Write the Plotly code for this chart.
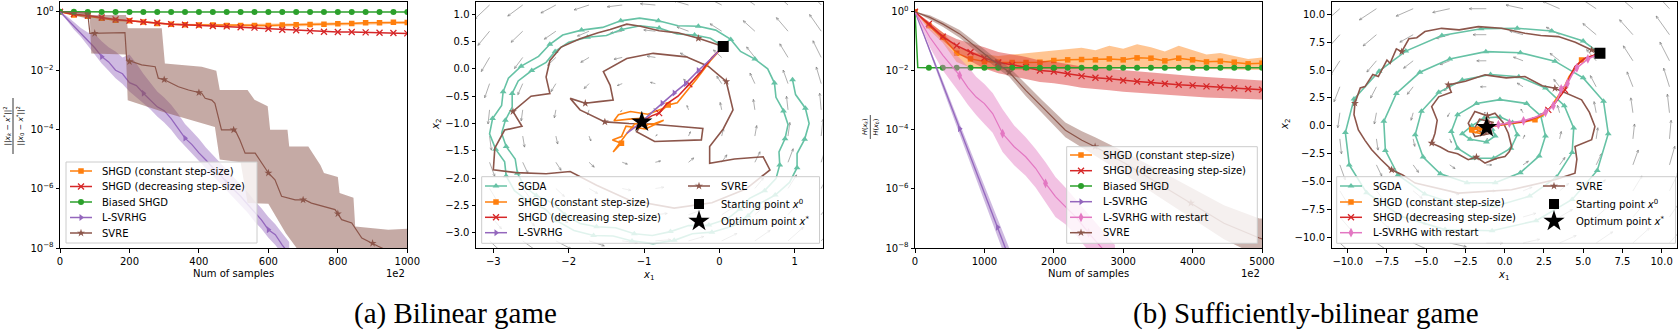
import math
import plotly.graph_objects as go

# ======================= DATA =======================
# ---- (a) left: relative distance vs number of samples (x in units of 1e2)
p1_x = list(range(0, 1001, 40))
p1_biased = [1.0, 0.99, 0.985, 0.98, 0.98, 0.98, 0.98, 0.98, 0.98, 0.98, 0.98, 0.98, 0.98,
             0.98, 0.98, 0.98, 0.98, 0.98, 0.98, 0.98, 0.98, 0.98, 0.98, 0.98, 0.98, 0.98]
p1_const = [1.0, 0.77, 0.71, 0.60, 0.52, 0.50, 0.45, 0.40, 0.38, 0.36, 0.355, 0.355, 0.345,
            0.345, 0.345, 0.345, 0.355, 0.36, 0.37, 0.38, 0.39, 0.40, 0.42, 0.42, 0.44, 0.43]
p1_const_hi = [1.0, 0.80, 0.74, 0.63, 0.55, 0.53, 0.48, 0.43, 0.41, 0.39, 0.385, 0.39, 0.38,
               0.385, 0.39, 0.39, 0.40, 0.41, 0.42, 0.43, 0.44, 0.45, 0.47, 0.47, 0.49, 0.48]
p1_const_lo = [1.0, 0.74, 0.68, 0.57, 0.49, 0.47, 0.42, 0.38, 0.355, 0.335, 0.325, 0.32, 0.31,
               0.305, 0.30, 0.30, 0.31, 0.315, 0.32, 0.33, 0.34, 0.35, 0.37, 0.37, 0.39, 0.38]
p1_dec = [1.0, 0.83, 0.75, 0.64, 0.55, 0.50, 0.45, 0.425, 0.38, 0.365, 0.345, 0.33, 0.32,
          0.30, 0.29, 0.265, 0.245, 0.235, 0.22, 0.21, 0.205, 0.205, 0.20, 0.195, 0.19, 0.185]
p1_lsv_x = list(range(0, 661, 20))
p1_lsv_log = [0, -0.25, -0.50, -0.72, -0.98, -1.22, -1.52, -1.70, -1.98, -2.10, -2.40, -2.50,
              -2.76, -2.98, -3.22, -3.35, -3.62, -3.95, -4.28, -4.50, -4.78, -5.02, -5.28, -5.50,
              -5.78, -6.02, -6.25, -6.52, -6.78, -7.05, -7.38, -7.55, -7.90, -8.20]
p1_lsv_hi_log = [0, -0.15, -0.35, -0.55, -0.70, -0.75, -1.0, -1.2, -1.35, -1.55, -1.45, -1.75,
                 -2.1, -2.4, -2.7, -2.9, -3.15, -3.45, -3.8, -4.05, -4.3, -4.6, -4.85, -5.1,
                 -5.35, -5.6, -5.85, -6.1, -6.4, -6.65, -6.95, -7.2, -7.5, -7.8]
p1_lsv_lo_log = [0, -0.3, -0.6, -0.85, -1.15, -1.45, -1.75, -2.0, -2.25, -2.45, -2.7, -2.9,
                 -3.1, -3.3, -3.55, -3.75, -4.0, -4.3, -4.55, -4.8, -5.05, -5.3, -5.55, -5.8,
                 -6.05, -6.3, -6.55, -6.8, -7.1, -7.35, -7.65, -7.9, -8.2, -8.5]
p1_lsv_marks = [6, 12, 18, 24, 30]
p1_svre_x = [0, 80, 86, 100, 168, 187, 192, 206, 235, 274, 283, 302, 341, 370, 408, 418, 437,
             446, 465, 504, 518, 533, 562, 600, 619, 638, 677, 705, 724, 792, 811, 840, 869,
             916, 945]
p1_svre_log = [0, -0.05, -0.73, -0.73, -0.73, -0.71, -1.63, -1.69, -1.80, -1.86, -2.25, -2.31,
               -2.54, -2.65, -2.76, -2.93, -2.99, -3.10, -4.0, -4.0, -4.34, -4.79, -4.79, -5.46,
               -5.69, -6.25, -6.37, -6.37, -6.48, -6.70, -7.04, -7.15, -7.66, -7.94, -8.10]
p1_svre_mx = [100, 200, 300, 400, 500, 600, 700, 800, 900]
p1_svre_mlog = [-0.73, -1.69, -2.30, -2.74, -4.0, -5.46, -6.37, -6.84, -7.84]
p1_svre_hi_x = [0, 86, 90, 190, 195, 293, 302, 408, 450, 460, 540, 560, 598, 605, 655, 660,
                715, 750, 760, 800, 805, 845, 850, 945, 1000]
p1_svre_hi_log = [0, -0.02, -0.11, -0.11, -0.56, -0.56, -1.75, -1.86, -2.0, -2.65, -2.65,
                  -2.98, -3.2, -4.0, -4.0, -4.56, -4.56, -5.2, -5.46, -5.6, -6.14, -6.3, -7.27,
                  -7.38, -7.35]
p1_svre_lo_x = [0, 86, 90, 190, 195, 300, 446, 460, 520, 540, 600, 650, 700, 1000]
p1_svre_lo_log = [0, -0.25, -1.41, -1.45, -3.0, -3.4, -3.9, -5.0, -5.1, -6.48, -6.5, -7.5,
                  -8.3, -9.0]

# ---- (a) right: trajectories in the bilinear game
p2_start = (0.05, 0.41)
p2_opt = (-1.03, -0.97)
p2_sgda_x = [0.05, -0.12, -0.33, -0.56, -0.80, -1.05, -1.30, -1.50, -1.75, -2.00,
             -2.18, -2.30, -2.49, -2.67, -2.75, -2.75, -2.84, -2.89, -2.83, -2.71,
             -2.68, -2.59, -2.43, -2.21, -2.05, -1.85, -1.63, -1.38, -1.13, -0.89,
             -0.65, -0.41, -0.14, 0.10, 0.27, 0.40, 0.60, 0.75, 0.80, 0.79,
             0.87, 0.91, 0.85, 0.75, 0.73, 0.64, 0.47, 0.28, 0.15, -0.05,
             -0.28, -0.55, -0.81, -1.06, -1.31, -1.55, -1.83, -2.08, -2.25, -2.40,
             -2.63, -2.80, -2.87, -2.89, -3.01, -3.05, -2.97, -2.85, -2.83, -2.72,
             -2.53, -2.31, -2.16, -1.93, -1.67, -1.41, -1.16, -0.88, -0.60, -0.36,
             -0.10, 0.17, 0.38, 0.53, 0.74, 0.93, 1.03, 1.03, 1.13, 1.19,
             1.14, 1.01, 0.97]
p2_sgda_y = [0.41, 0.56, 0.62, 0.64, 0.75, 0.79, 0.72, 0.61, 0.58, 0.49,
             0.32, 0.12, -0.03, -0.22, -0.45, -0.70, -0.94, -1.18, -1.42, -1.65,
             -1.91, -2.15, -2.32, -2.46, -2.67, -2.83, -2.89, -2.91, -3.02, -3.05,
             -2.98, -2.87, -2.86, -2.75, -2.57, -2.37, -2.23, -2.01, -1.76, -1.52,
             -1.28, -1.02, -0.77, -0.52, -0.26, 0.0, 0.18, 0.32, 0.54, 0.71,
             0.78, 0.79, 0.88, 0.93, 0.88, 0.76, 0.71, 0.62, 0.45, 0.23,
             0.05, -0.17, -0.42, -0.67, -0.91, -1.19, -1.47, -1.70, -1.96, -2.23,
             -2.43, -2.57, -2.78, -2.96, -3.05, -3.06, -3.15, -3.20, -3.14, -3.02,
             -2.99, -2.88, -2.69, -2.47, -2.31, -2.08, -1.81, -1.55, -1.29, -1.0,
             -0.72, -0.47, -0.20]
p2_sgda_marks = list(range(0, 93, 2))
p2_const_x = [0.05, -0.12, -0.3, -0.48, -0.56, -0.68, -0.8, -0.74, -0.95, -1.18, -1.34, -1.4,
              -1.2, -0.96, -1.1, -0.86, -0.74, -0.98, -1.24, -1.3, -1.42, -1.3, -1.41, -1.25,
              -1.12, -0.95, -1.05]
p2_const_y = [0.41, 0.15, -0.18, -0.48, -0.62, -0.66, -0.8, -0.72, -0.83, -0.78, -0.84, -0.95,
              -0.92, -0.90, -1.05, -1.0, -0.94, -1.1, -1.05, -1.24, -1.30, -1.36, -1.52, -1.22,
              -1.0, -1.04, -0.95]
p2_const_marks = [5, 21]
p2_dec_x = [0.05, -0.1, -0.25, -0.4, -0.55, -0.7, -0.8, -0.9, -1.0, -1.03]
p2_dec_y = [0.41, 0.21, -0.06, -0.28, -0.5, -0.64, -0.81, -0.86, -0.95, -0.97]
p2_dec_marks = [3, 6]
p2_lsv_x = [0.05, -0.1, -0.28, -0.45, -0.6, -0.76, -0.9, -1.03, -1.15, -1.23]
p2_lsv_y = [0.41, 0.2, -0.03, -0.27, -0.44, -0.63, -0.8, -0.97, -1.09, -1.18]
p2_lsv_marks = [2, 3, 4, 5]
p2_svre_x = [0.05, -0.28, -0.55, -0.8, -1.05, -1.23, -1.45, -1.61, -1.85, -2.1, -2.25, -2.3,
             -2.25, -2.5, -2.74, -2.62, -2.85, -2.98, -3.0, -2.7, -2.3, -1.98, -1.63, -1.2,
             -0.6, -0.1, 0.35, 0.67, 0.58, 0.2, -0.13, -0.13, 0.05, 0.18, 0.09, -0.15, -0.44,
             -0.88, -1.23, -1.54, -1.45, -1.41, -1.6, -1.78, -1.98, -1.85, -1.52, -1.2, -0.92,
             -0.5, -0.22, -0.24, -0.55, -0.86, -1.1, -1.0]
p2_svre_y = [0.41, 0.56, 0.66, 0.70, 0.78, 0.82, 0.72, 0.66, 0.55, 0.40, 0.15, -0.15, -0.45,
             -0.50, -0.78, -1.05, -1.12, -1.45, -1.85, -1.90, -1.92, -1.88, -2.13, -2.40, -2.55,
             -2.45, -2.20, -1.85, -1.61, -1.65, -1.73, -1.42, -1.10, -0.75, -0.23, 0.05, 0.22,
             0.285, 0.19, -0.05, -0.30, -0.57, -0.60, -0.63, -0.54, -0.75, -0.97, -1.0, -1.01,
             -1.05, -1.09, -1.30, -1.31, -1.33, -1.15, -0.95]
p2_svre_marks = [1, 14, 34, 43, 46]
p2_grid_x = [-3.05, -2.61, -2.17, -1.73, -1.29, -0.85, -0.41, 0.03, 0.47, 0.91, 1.35]
p2_grid_y = [-3.15, -2.67, -2.19, -1.71, -1.23, -0.75, -0.27, 0.21, 0.69, 1.17]

# ---- (b) left: H(x_k)/H(x_0) vs number of samples (x in units of 1e2)
p3_x = list(range(0, 5001, 200))
p3_const_log = [0, -0.472, -0.865, -1.404, -1.596, -1.685, -1.708, -1.719, -1.719, -1.708,
                -1.652, -1.629, -1.618, -1.629, -1.596, -1.629, -1.562, -1.573, -1.663, -1.573,
                -1.629, -1.697, -1.674, -1.708, -1.764, -1.742]
p3_const_hi_log = [0, -0.35, -0.7, -1.2, -1.35, -1.45, -1.5, -1.45, -1.4, -1.35, -1.3, -1.25,
                   -1.22, -1.3, -1.15, -1.25, -1.1, -1.2, -1.35, -1.15, -1.3, -1.45, -1.4, -1.5,
                   -1.6, -1.55]
p3_const_lo_log = [0, -0.6, -1.05, -1.7, -1.9, -1.95, -1.98, -1.97, -1.96, -1.95, -1.94, -1.93,
                   -1.93, -1.93, -1.92, -1.93, -1.92, -1.92, -1.93, -1.92, -1.93, -1.94, -1.94,
                   -1.95, -1.96, -1.96]
p3_dec_log = [0, -0.416, -0.843, -1.146, -1.371, -1.562, -1.719, -1.798, -1.876, -1.989, -2.022,
              -2.101, -2.180, -2.236, -2.270, -2.326, -2.360, -2.393, -2.438, -2.472, -2.494,
              -2.528, -2.562, -2.596, -2.618, -2.640]
p3_dec_hi_log = [0, -0.33, -0.7, -0.92, -1.07, -1.2, -1.36, -1.45, -1.53, -1.65, -1.69, -1.77,
                 -1.85, -1.9, -1.94, -2.0, -2.04, -2.07, -2.12, -2.15, -2.18, -2.21, -2.24,
                 -2.27, -2.3, -2.33]
p3_dec_lo_log = [0, -0.5, -0.98, -1.38, -1.68, -1.92, -2.08, -2.18, -2.27, -2.38, -2.42, -2.49,
                 -2.57, -2.62, -2.66, -2.71, -2.74, -2.78, -2.82, -2.85, -2.87, -2.9, -2.92,
                 -2.94, -2.96, -2.97]
p3_bias_x = [0, 40] + list(range(200, 5001, 200))
p3_bias = [1.0, 0.013, 0.0128, 0.0128, 0.0128, 0.0128, 0.0128, 0.0128, 0.0128, 0.0128, 0.0128,
           0.0128, 0.0128, 0.0128, 0.0128, 0.0128, 0.0128, 0.0128, 0.0128, 0.0128, 0.0128,
           0.0128, 0.0128, 0.0128, 0.0128, 0.0128, 0.0128]
p3_lsv_x = [0, 200, 400, 643, 800, 1000, 1190, 1400]
p3_lsv_log = [0, -1.23, -2.46, -3.96, -4.92, -6.14, -7.3, -8.6]
p3_lsv_hi_log = [0, -1.15, -2.33, -3.78, -4.7, -5.88, -7.0, -8.25]
p3_lsv_lo_log = [0, -1.31, -2.6, -4.15, -5.15, -6.4, -7.6, -8.95]
p3_lsv_marks = [3, 6]
p3_rst_x = [0, 214, 405, 643, 762, 881, 1000, 1119, 1262, 1429, 1595, 1738, 1881, 2024, 2167,
            2333, 2500, 2690, 2881]
p3_rst_log = [0, -0.865, -1.483, -2.157, -2.57, -2.888, -3.11, -3.449, -4.124, -4.57, -4.91,
              -5.30, -5.81, -6.26, -6.6, -6.99, -7.49, -8.0, -8.5]
p3_rst_hi_log = [0, -0.55, -1.0, -1.55, -1.85, -2.2, -2.45, -2.75, -3.3, -3.85, -4.25, -4.65,
                 -5.1, -5.6, -5.95, -6.4, -6.85, -7.35, -7.9]
p3_rst_lo_log = [0, -1.2, -2.0, -2.75, -3.15, -3.5, -3.8, -4.1, -4.75, -5.2, -5.55, -5.95,
                 -6.45, -6.95, -7.2, -7.6, -8.1, -8.6, -9.0]
p3_rst_marks = [3, 8, 12, 16]
p3_svre_x = [0, 214, 405, 643, 881, 1119, 1357, 1595, 1833, 1976, 2167, 2405, 2595, 3024, 3500,
             3976, 4452, 4962, 5000]
p3_svre_log = [0, -0.19, -0.42, -0.75, -1.2, -1.65, -2.04, -2.66, -3.22, -3.56, -4.01, -4.35,
               -4.57, -5.13, -5.81, -6.48, -7.16, -7.66, -7.69]
p3_svre_hi_log = [0, -0.12, -0.33, -0.62, -1.05, -1.5, -1.88, -2.45, -3.0, -3.32, -3.75, -4.05,
                  -4.25, -4.75, -5.35, -5.95, -6.55, -7.0, -7.0]
p3_svre_lo_log = [0, -0.27, -0.52, -0.88, -1.35, -1.8, -2.2, -2.85, -3.42, -3.78, -4.25, -4.62,
                  -4.88, -5.5, -6.25, -6.98, -7.7, -8.3, -8.35]
p3_svre_marks = [6, 12, 15]

# ---- (b) right: trajectories in the sufficiently-bilinear game
p4_start = (6.07, 6.5)
p4_opt = (-1.15, -0.15)
p4_sgda_x = [6.07, 5.0, 3.0, 0.8, -1.5, -4.0, -6.3, -8.0, -9.6, -10.15, -9.9, -8.8, -6.6, -3.8,
             -0.8, 2.0, 4.3, 5.9, 6.6, 6.3, 5.0, 3.2, 1.0, -1.2, -3.5, -5.4, -6.9, -7.7, -7.6,
             -6.8, -5.1, -3.0, -0.6, 1.6, 3.3, 4.3, 4.4, 3.8, 2.6, 0.9, -0.9, -2.7, -4.2, -5.3,
             -5.7, -5.2, -4.1, -2.4, -0.6, 1.0, 2.2, 2.6, 2.3, 1.4, -0.3, -1.8, -3.0, -3.4, -3.0,
             -2.0, -0.7, 0.4, 0.8, 0.5, -0.3, -1.3, -2.1, -2.7, -2.2, -1.16, -0.6, -0.8, -1.15]
p4_sgda_y = [6.5, 7.6, 8.5, 8.75, 8.7, 8.1, 6.7, 4.9, 2.4, -0.6, -3.5, -6.0, -8.1, -9.3, -9.4,
             -8.5, -6.6, -4.0, -0.7, 2.2, 4.3, 5.8, 6.55, 6.65, 6.0, 4.8, 2.9, 0.4, -2.2, -4.4,
             -6.1, -7.1, -7.2, -6.3, -4.6, -2.4, -0.2, 1.8, 3.4, 4.4, 4.6, 4.1, 3.0, 1.3, -0.8,
             -2.8, -4.3, -5.1, -5.1, -4.2, -2.7, -0.9, 0.9, 2.0, 2.35, 2.0, 1.0, -0.5, -2.0,
             -2.9, -2.9, -2.0, -0.8, 0.3, 0.8, 0.7, 0.0, -0.7, -1.2, -1.45, -0.9, -0.3, -0.15]
p4_const_x = [6.07, 5.3, 4.9, 4.5, 4.1, 3.8, 3.4, 3.0, 2.5, 1.93, 1.2, 0.3, -0.6, -1.3, -2.1,
              -1.9, -1.4, -1.7, -2.2, -1.5, -1.15]
p4_const_y = [6.5, 6.1, 5.91, 5.2, 4.4, 3.5, 2.6, 1.8, 1.0, 0.54, 0.35, 0.2, 0.0, -0.2, -0.36,
              -0.6, -0.3, -0.1, -0.5, -0.7, -0.15]
p4_const_marks = [2, 9, 14]
p4_dec_x = [6.07, 5.11, 4.48, 4.16, 3.84, 3.5, 3.2, 2.78, 2.14, 1.29, 0.23, -0.62, -1.15]
p4_dec_y = [6.5, 6.06, 5.31, 4.42, 3.22, 2.6, 2.03, 1.43, 0.84, 0.39, 0.24, 0.0, -0.15]
p4_dec_marks = [4, 7]
p4_rst_x = [6.07, 5.3, 4.6, 4.3, 4.0, 3.6, 3.4, 3.1, 2.6, 2.0, 1.2, 0.3, -0.4, -0.9, -1.15]
p4_rst_y = [6.5, 6.0, 5.2, 4.6, 3.8, 3.3, 2.5, 1.8, 1.2, 0.8, 0.45, 0.25, 0.1, -0.1, -0.15]
p4_rst_marks = [1, 2, 4, 5, 7, 8, 10, 11, 12, 13]
p4_svre_x = [6.07, 5.54, 4.5, 3.42, 2.3, 1.29, -0.2, -1.68, -2.9, -4.02, -5.08, -5.6, -6.1,
             -6.56, -6.9, -7.3, -7.5, -8.05, -8.4, -8.9, -9.2, -9.54, -9.6, -9.32, -8.9, -8.47,
             -7.9, -7.2, -6.5, -5.7, -2.95, 0.44, 3.2, 4.48, 4.6, 4.48, 5.54, 5.75, 5.4, 4.9,
             3.2, 2.4, 1.29, 0.1, -1.25, -2.5, -3.59, -3.4, -4.2, -4.65, -4.3, -4.44, -4.65,
             -4.1, -3.59, -3.0, -2.32, -1.8, -1.25, -0.5, 0.02, 0.3, 0.44, 0.23, -0.1, -0.62,
             -1.1, -1.9, -2.32, -2.1, -1.9, -0.83, -1.04, -1.47, -0.7, -1.6, -1.9, -1.3, -0.9,
             -1.15]
p4_svre_y = [6.5, 6.8, 7.5, 8.0, 8.1, 8.3, 8.75, 8.89, 8.6, 8.74, 8.45, 7.9, 7.8, 6.65, 6.9,
             5.6, 5.9, 4.42, 4.6, 3.52, 3.4, 2.03, 1.0, -0.36, -1.3, -2.15, -3.0, -3.94, -4.4,
             -5.13, -6.03, -5.73, -4.83, -4.24, -3.0, -1.85, -1.25, -0.06, 1.2, 2.33, 3.37, 3.6,
             4.42, 4.3, 4.57, 4.0, 3.67, 3.0, 2.6, 1.73, 0.5, -0.66, -1.55, -1.9, -2.3, -2.5,
             -3.04, -2.8, -3.34, -2.9, -2.75, -2.3, -1.85, -0.66, 0.3, 1.13, 0.9, 1.28, 0.24,
             -0.4, -0.96, -0.66, 0.54, -0.06, 0.3, 0.6, -0.2, -0.8, -0.2, -0.15]
p4_svre_marks = [1, 13, 21, 27, 40, 46, 52, 57, 66]
p4_grid_x = [-10.5, -8.17, -5.83, -3.5, -1.17, 1.17, 3.5, 5.83, 8.17, 10.5]
p4_grid_y = [-10.5, -8.17, -5.83, -3.5, -1.17, 1.17, 3.5, 5.83, 8.17, 10.5]

# tick labels
log_tickvals = [1, 1e-2, 1e-4, 1e-6, 1e-8]
log_ticktext = ["10<sup>0</sup>", "10<sup>\u22122</sup>", "10<sup>\u22124</sup>",
                "10<sup>\u22126</sup>", "10<sup>\u22128</sup>"]

# ======================= STYLE / LAYOUT =======================
FW, FH = 1680, 334
FONT = "DejaVu Sans"
SERIF = "Liberation Serif, Times New Roman, serif"
C_OR, C_RD, C_GR = "#ff7f0e", "#d62728", "#2ca02c"
C_PU, C_PK, C_BR, C_TE = "#9467bd", "#e377c2", "#8c564b", "#66c2a5"


def rgba(h, a):
    h = h.lstrip("#")
    return "rgba(%d,%d,%d,%.3f)" % (int(h[0:2], 16), int(h[2:4], 16), int(h[4:6], 16), a)


def pw(v):
    return [10 ** t for t in v]


# panel pixel boxes (left, right, top, bottom)
BOX = {1: (60, 407.3, 2, 248), 2: (476, 822.7, 2, 248),
       3: (915, 1262, 2, 248), 4: (1331.7, 1676.7, 2, 248)}
RANGES = {2: ((-3.23, 1.37), (-3.28, 1.225)), 4: ((-11.02, 10.96), (-10.95, 11.1))}

fig = go.Figure()


def ax(i):
    return dict(xaxis="x" if i == 1 else "x%d" % i, yaxis="y" if i == 1 else "y%d" % i)


def line(i, x, y, color, width=1.5, mode="lines", marker=None, opacity=1.0):
    fig.add_trace(go.Scatter(x=x, y=y, mode=mode, line=dict(color=color, width=width),
                             marker=marker, opacity=opacity, hoverinfo="skip",
                             showlegend=False, **ax(i)))


def marks(i, x, y, idx, marker):
    fig.add_trace(go.Scatter(x=[x[k] for k in idx], y=[y[k] for k in idx], mode="markers",
                             marker=marker, hoverinfo="skip", showlegend=False, **ax(i)))


def band(i, xs, hi, lo, color, alpha, xs_lo=None):
    xl = xs if xs_lo is None else xs_lo
    fig.add_trace(go.Scatter(x=list(xs) + list(xl)[::-1], y=list(hi) + list(lo)[::-1],
                             mode="lines", fill="toself", fillcolor=rgba(color, alpha),
                             line=dict(width=0), hoverinfo="skip", showlegend=False, **ax(i)))


def M(sym, color, size=6, lw=0):
    if sym == "x-thin":
        return dict(symbol=sym, size=size, color=color, line=dict(width=1.3, color=color))
    return dict(symbol=sym, size=size, color=color, line=dict(width=lw, color=color))


def quiver(i, gx, gy, c, k):
    (x0, x1), (y0, y1) = RANGES[i]
    l, r, t, b = BOX[i]
    sx = (r - l) / (x1 - x0)
    sy = (b - t) / (y1 - y0)
    xs, ys = [], []
    for x in gx:
        for y in gy:
            du = -k * (y - c[1])
            dv = k * (x - c[0])
            L = math.hypot(du, dv)
            if L < 0.5:
                continue
            tx, ty = x + du / sx, y + dv / sy
            ux, uy = du / L, dv / L
            h = min(2.8, 0.4 * L)
            xs += [x, tx, None]
            ys += [y, ty, None]
            for s in (1, -1):
                a = math.radians(24) * s
                hx = ux * math.cos(a) - uy * math.sin(a)
                hy = ux * math.sin(a) + uy * math.cos(a)
                xs += [tx - h * hx / sx, tx, None]
                ys += [ty - h * hy / sy, ty, None]
    line(i, xs, ys, "rgba(120,120,120,0.75)", width=0.8)


# ---------------- panel 1 ----------------
band(1, p1_x, p1_const_hi, p1_const_lo, C_OR, 0.35)
line(1, p1_x, p1_const, C_OR, mode="lines+markers", marker=M("square", C_OR, 5.5))
line(1, p1_x, p1_dec, C_RD, mode="lines+markers", marker=M("x-thin", C_RD, 6))
line(1, p1_x, p1_biased, C_GR, mode="lines+markers", marker=M("circle", C_GR, 6))
band(1, p1_lsv_x, pw(p1_lsv_hi_log), pw(p1_lsv_lo_log), C_PU, 0.45)
line(1, p1_lsv_x, pw(p1_lsv_log), C_PU, width=1.3)
marks(1, p1_lsv_x, pw(p1_lsv_log), p1_lsv_marks, M("triangle-right", C_PU, 6))
band(1, p1_svre_hi_x, pw(p1_svre_hi_log), pw(p1_svre_lo_log), C_BR, 0.5, xs_lo=p1_svre_lo_x)
line(1, p1_svre_x, pw(p1_svre_log), C_BR, width=1.2)
fig.add_trace(go.Scatter(x=p1_svre_mx, y=pw(p1_svre_mlog), mode="markers",
                         marker=M("star", C_BR, 6), hoverinfo="skip", showlegend=False, **ax(1)))

# ---------------- panel 2 ----------------
quiver(2, p2_grid_x, p2_grid_y, p2_opt, 7.0)
line(2, p2_sgda_x, p2_sgda_y, C_TE, width=1.6)
marks(2, p2_sgda_x, p2_sgda_y, p2_sgda_marks, M("triangle-up", C_TE, 6))
line(2, p2_svre_x, p2_svre_y, C_BR, width=1.6)
marks(2, p2_svre_x, p2_svre_y, p2_svre_marks, M("star", C_BR, 6))
line(2, p2_const_x, p2_const_y, C_OR, width=1.6)
marks(2, p2_const_x, p2_const_y, p2_const_marks, M("square", C_OR, 5.5))
line(2, p2_dec_x, p2_dec_y, C_RD, width=1.6)
marks(2, p2_dec_x, p2_dec_y, p2_dec_marks, M("x-thin", C_RD, 6))
line(2, p2_lsv_x, p2_lsv_y, C_PU, width=1.6)
marks(2, p2_lsv_x, p2_lsv_y, p2_lsv_marks, M("triangle-right", C_PU, 6))
line(2, [p2_start[0]], [p2_start[1]], "black", mode="markers", marker=M("square", "black", 11))
line(2, [p2_opt[0]], [p2_opt[1]], "black", mode="markers", marker=M("star", "black", 16))

# ---------------- panel 3 ----------------
band(3, p3_x, pw(p3_const_hi_log), pw(p3_const_lo_log), C_OR, 0.45)
line(3, p3_x, pw(p3_const_log), C_OR, mode="lines+markers", marker=M("square", C_OR, 5.5))
band(3, p3_x, pw(p3_dec_hi_log), pw(p3_dec_lo_log), C_RD, 0.45)
line(3, p3_x, pw(p3_dec_log), C_RD, mode="lines+markers", marker=M("x-thin", C_RD, 6))
line(3, p3_bias_x, p3_bias, C_GR)
marks(3, p3_bias_x, p3_bias, list(range(2, len(p3_bias_x))), M("circle", C_GR, 6))
band(3, p3_lsv_x, pw(p3_lsv_hi_log), pw(p3_lsv_lo_log), C_PU, 0.45)
line(3, p3_lsv_x, pw(p3_lsv_log), C_PU, width=1.3)
marks(3, p3_lsv_x, pw(p3_lsv_log), p3_lsv_marks, M("triangle-right", C_PU, 6))
band(3, p3_rst_x, pw(p3_rst_hi_log), pw(p3_rst_lo_log), C_PK, 0.45)
line(3, p3_rst_x, pw(p3_rst_log), C_PK, width=1.2)
marks(3, p3_rst_x, pw(p3_rst_log), p3_rst_marks, M("diamond-tall", C_PK, 7))
band(3, p3_svre_x, pw(p3_svre_hi_log), pw(p3_svre_lo_log), C_BR, 0.45)
line(3, p3_svre_x, pw(p3_svre_log), C_BR, width=1.2)
marks(3, p3_svre_x, pw(p3_svre_log), p3_svre_marks, M("star", C_BR, 6))

# ---------------- panel 4 ----------------
quiver(4, p4_grid_x, p4_grid_y, p4_opt, 1.6)
line(4, p4_sgda_x, p4_sgda_y, C_TE, width=1.6, mode="lines+markers",
     marker=M("triangle-up", C_TE, 6))
line(4, p4_svre_x, p4_svre_y, C_BR, width=1.6)
marks(4, p4_svre_x, p4_svre_y, p4_svre_marks, M("star", C_BR, 6))
line(4, p4_const_x, p4_const_y, C_OR, width=1.6)
marks(4, p4_const_x, p4_const_y, p4_const_marks, M("square", C_OR, 5.5))
line(4, p4_dec_x, p4_dec_y, C_RD, width=1.6)
marks(4, p4_dec_x, p4_dec_y, p4_dec_marks, M("x-thin", C_RD, 6))
line(4, p4_rst_x, p4_rst_y, C_PK, width=1.6)
marks(4, p4_rst_x, p4_rst_y, p4_rst_marks, M("diamond-tall", C_PK, 7))
line(4, [p4_start[0]], [p4_start[1]], "black", mode="markers", marker=M("square", "black", 11))
line(4, [p4_opt[0]], [p4_opt[1]], "black", mode="markers", marker=M("star", "black", 16))

# ---------------- overlay (pixel coordinates) for legends & labels ----------------
OV = dict(xaxis="x5", yaxis="y5")
TXT = dict(family=FONT, size=10, color="black")


def ov_trace(x, y, **kw):
    fig.add_trace(go.Scatter(x=x, y=y, hoverinfo="skip", showlegend=False, **OV, **kw))


def text(x, y, s, size=10, xa="left", ya="middle", rot=0, fam=FONT):
    fig.add_annotation(x=x, y=y, xref="x5", yref="y5", text=s, showarrow=False,
                       xanchor=xa, yanchor=ya, textangle=rot,
                       font=dict(family=fam, size=size, color="black"))


def leg_box(x0, x1, y0, y1):
    ov_trace([x0, x1, x1, x0, x0], [y0, y0, y1, y1, y0], mode="lines", fill="toself",
             fillcolor="rgba(255,255,255,0.8)", line=dict(color="#cccccc", width=1))


def leg_item(xl, xt, y, label, color=None, marker=None, draw_line=True):
    if draw_line:
        ov_trace([xl, xl + 22], [y, y], mode="lines", line=dict(color=color, width=1.5))
    if marker is not None:
        ov_trace([xl + 11], [y], mode="markers", marker=marker)
    text(xt, y, label)


L_CONST = "SHGD (constant step-size)"
L_DEC = "SHGD (decreasing step-size)"

# legend panel 1
leg_box(66, 257, 162, 243)
for yy, lab, c, m in [(171, L_CONST, C_OR, M("square", C_OR, 5.5)),
                      (186.5, L_DEC, C_RD, M("x-thin", C_RD, 6)),
                      (202, "Biased SHGD", C_GR, M("circle", C_GR, 6)),
                      (217.5, "L-SVRHG", C_PU, M("triangle-right", C_PU, 6)),
                      (233, "SVRE", C_BR, M("star", C_BR, 6))]:
    leg_item(70, 100, yy, lab, c, m)

# legend panel 3
leg_box(1066.7, 1257.3, 146.7, 243.3)
for yy, lab, c, m in [(155, L_CONST, C_OR, M("square", C_OR, 5.5)),
                      (170.7, L_DEC, C_RD, M("x-thin", C_RD, 6)),
                      (186, "Biased SHGD", C_GR, M("circle", C_GR, 6)),
                      (201.7, "L-SVRHG", C_PU, M("triangle-right", C_PU, 6)),
                      (217.3, "L-SVRHG with restart", C_PK, M("diamond-tall", C_PK, 7)),
                      (232.7, "SVRE", C_BR, M("star", C_BR, 6))]:
    leg_item(1070, 1100.7, yy, lab, c, m)

# legends panels 2 and 4
for (bx0, bx1, c1l, c1t, c2l, c2t, last_lab, last_c, last_m) in [
        (481.7, 819.5, 485, 515.7, 688, 719.3, "L-SVRHG", C_PU, M("triangle-right", C_PU, 6)),
        (1336.7, 1675.5, 1340, 1370.7, 1543, 1574.3, "L-SVRHG with restart", C_PK,
         M("diamond-tall", C_PK, 7))]:
    leg_box(bx0, bx1, 176.7, 243.3)
    for yy, lab, c, m in [(186, "SGDA", C_TE, M("triangle-up", C_TE, 6)),
                          (202, L_CONST, C_OR, M("square", C_OR, 5.5)),
                          (217.3, L_DEC, C_RD, M("x-thin", C_RD, 6)),
                          (232.7, last_lab, last_c, last_m)]:
        leg_item(c1l, c1t, yy, lab, c, m)
    leg_item(c2l, c2t, 186, "SVRE", C_BR, M("star", C_BR, 6))
    leg_item(c2l, c2t, 204, "Starting point <i>x</i><sup>0</sup>", marker=M("square", "black", 10),
             draw_line=False)
    leg_item(c2l, c2t, 221.3, "Optimum point <i>x</i><sup>*</sup>", marker=M("star", "black", 16),
             draw_line=False)

# axis labels
text(233.7, 273, "Num of samples", xa="center")
text(407.3, 273, "1e2", xa="right")
text(1088.5, 273, "Num of samples", xa="center")
text(1262, 273, "1e2", xa="right")
text(648.3, 275, "<i>x</i><sub>1</sub>", xa="center")
text(1503.3, 275, "<i>x</i><sub>1</sub>", xa="center")
text(436, 125, "<i>x</i><sub>2</sub>", xa="center", rot=-90)
text(1285, 125, "<i>x</i><sub>2</sub>", xa="center", rot=-90)
# fraction y-labels
text(6.5, 126, "||<i>x<sub>k</sub></i> \u2212 <i>x</i><sup>*</sup>||<sup>2</sup>", size=7.5,
     xa="center", rot=-90)
text(19.5, 126, "||<i>x</i><sub>0</sub> \u2212 <i>x</i><sup>*</sup>||<sup>2</sup>", size=7.5,
     xa="center", rot=-90)
ov_trace([13, 13], [98, 154], mode="lines", line=dict(color="black", width=0.8))
text(865, 127, "<i>H</i>(<i>x<sub>k</sub></i>)", size=6.5, xa="center", rot=-90)
text(875.5, 127, "<i>H</i>(<i>x</i><sub>0</sub>)", size=6.5, xa="center", rot=-90)
ov_trace([870.3, 870.3], [115, 139], mode="lines", line=dict(color="black", width=0.7))

# captions
text(455, 313.5, "(a) Bilinear game", size=29, xa="center", fam=SERIF)
text(1306, 313.5, "(b) Sufficiently-bilinear game", size=29, xa="center", fam=SERIF)

# ======================= AXES =======================
base = dict(showline=True, linecolor="black", linewidth=1, mirror=True, ticks="outside",
            ticklen=3.5, tickwidth=1, tickcolor="black", showgrid=False, zeroline=False,
            tickfont=TXT, automargin=False, fixedrange=True)


def dx(i):
    l, r, t, b = BOX[i]
    return [l / FW, r / FW]


def dy(i):
    l, r, t, b = BOX[i]
    return [1 - b / FH, 1 - t / FH]


layout = dict(
    width=FW, height=FH, margin=dict(l=0, r=0, t=0, b=0),
    paper_bgcolor="white", plot_bgcolor="rgba(0,0,0,0)", showlegend=False,
    xaxis=dict(base, domain=dx(1), range=[0, 1000], tickvals=[0, 200, 400, 600, 800, 1000],
               anchor="y"),
    yaxis=dict(base, domain=dy(1), type="log", range=[-8, 0.33], tickvals=log_tickvals,
               ticktext=log_ticktext, anchor="x"),
    xaxis2=dict(base, domain=dx(2), range=list(RANGES[2][0]), tickvals=[-3, -2, -1, 0, 1],
                anchor="y2"),
    yaxis2=dict(base, domain=dy(2), range=list(RANGES[2][1]),
                tickvals=[1.0, 0.5, 0.0, -0.5, -1.0, -1.5, -2.0, -2.5, -3.0], tickformat=".1f",
                anchor="x2"),
    xaxis3=dict(base, domain=dx(3), range=[0, 5000],
                tickvals=[0, 1000, 2000, 3000, 4000, 5000], anchor="y3"),
    yaxis3=dict(base, domain=dy(3), type="log", range=[-8, 0.33], tickvals=log_tickvals,
                ticktext=log_ticktext, anchor="x3"),
    xaxis4=dict(base, domain=dx(4), range=list(RANGES[4][0]),
                tickvals=[-10, -7.5, -5, -2.5, 0, 2.5, 5, 7.5, 10], tickformat=".1f",
                anchor="y4"),
    yaxis4=dict(base, domain=dy(4), range=list(RANGES[4][1]),
                tickvals=[-10, -7.5, -5, -2.5, 0, 2.5, 5, 7.5, 10], tickformat=".1f",
                anchor="x4"),
    xaxis5=dict(domain=[0, 1], range=[0, FW], visible=False, fixedrange=True, anchor="y5"),
    yaxis5=dict(domain=[0, 1], range=[FH, 0], visible=False, fixedrange=True, anchor="x5"),
)
fig.update_layout(**layout)
# the page's default body margin would shift the figure by 8px; remove it
fig.write_html("out.html", config={"displayModeBar": False},
               post_script="document.body.style.margin='0px';")
